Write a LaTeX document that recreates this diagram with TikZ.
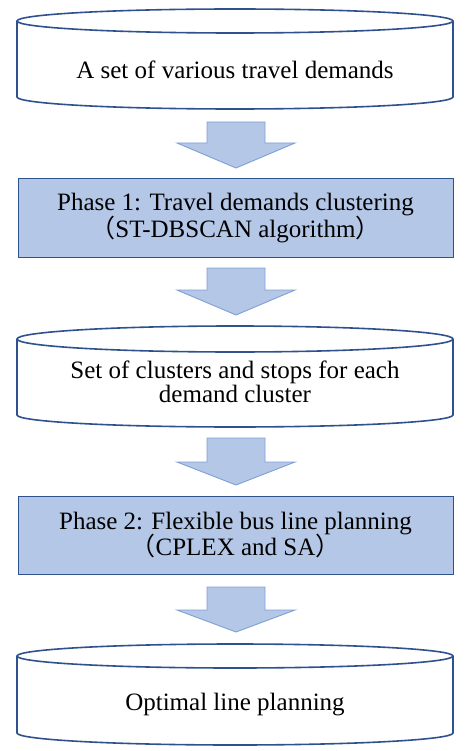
\documentclass[tikz,border=0pt]{standalone}
\usepackage{fontspec}
\setmainfont{Liberation Serif}
\newfontfamily\cjk{Noto Sans CJK SC}
\definecolor{edgeblue}{HTML}{2F528F}
\definecolor{boxfill}{HTML}{B4C7E7}
\definecolor{arrowedge}{HTML}{7F9FD5}
\begin{document}
\begin{tikzpicture}[x=1pt,y=-1pt,
  cyl/.style={draw=edgeblue,line width=1.6pt,fill=white},
  phasebox/.style={draw=edgeblue,line width=1pt,fill=boxfill},
  blockarrow/.style={draw=arrowedge,line width=0.9pt,fill=boxfill},
  label/.style={font=\fontsize{25}{25.5}\selectfont,align=center,inner sep=0pt}]
\useasboundingbox (0,0) rectangle (471,751);
\newcommand{\mycyl}[5]{% name, top y, bottom y, ry top, ry bottom
  \fill[white] (17,#2) -- (17,#3) arc[start angle=180,end angle=0,x radius=218,y radius=#5] -- (453,#2) -- cycle;
  \draw[cyl,fill=none] (17,#2) -- (17,#3) arc[start angle=180,end angle=0,x radius=218,y radius=#5] -- (453,#2);
  \draw[cyl] (235,#2) ellipse[x radius=218,y radius=#4];
}
\newcommand{\myarrow}[3]{% top, base, tip
  \draw[blockarrow] (207,#1) -- (265,#1) -- (265,#2) -- (295,#2) -- (236,#3) -- (177,#2) -- (207,#2) -- cycle;
}
% cylinder 1
\mycyl{c1}{21}{97}{12}{12}
\node[label] (t1) at (235,70) {A set of various travel demands};
% arrow 1
\myarrow{122}{143}{168}
% phase 1
\node[phasebox,minimum width=435pt,minimum height=78pt,inner sep=0pt] (p1) at (235.5,218) {};
\node[label] (p1t) at (235.5,218) {Phase 1: Travel demands clustering\\[-1pt]{\cjk （}ST-DBSCAN algorithm{\cjk ）}};
% arrow 2
\myarrow{268}{290}{315}
% cylinder 2
\mycyl{c2}{339}{415}{13}{12}
\node[label] (t2) at (235,382) {Set of clusters and stops for each\\[-1pt]demand cluster};
% arrow 3
\myarrow{438}{462}{485}
% phase 2
\node[phasebox,minimum width=435pt,minimum height=78pt,inner sep=0pt] (p2) at (235.5,535) {};
\node[label] (p2t) at (235.5,535) {Phase 2: Flexible bus line planning\\[-1pt]{\cjk （}CPLEX and SA{\cjk ）}};
% arrow 4
\myarrow{587}{610}{632}
% cylinder 3
\mycyl{c3}{656}{733}{12}{12}
\node[label] (t3) at (235,705) {Optimal line planning};
\end{tikzpicture}
\end{document}
